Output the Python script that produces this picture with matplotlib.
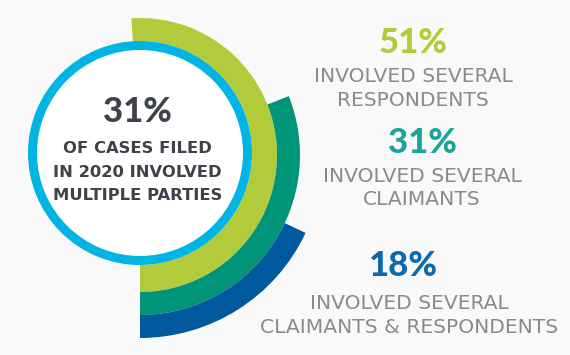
import matplotlib
matplotlib.use("Agg")
import matplotlib.pyplot as plt
from matplotlib.patches import Wedge, Circle

# ---- data ----
categories = ["INVOLVED SEVERAL\nRESPONDENTS",
              "INVOLVED SEVERAL\nCLAIMANTS",
              "INVOLVED SEVERAL\nCLAIMANTS & RESPONDENTS"]
values = [51, 31, 18]
center_value = 31
center_label = ["OF CASES FILED", "IN 2020 INVOLVED", "MULTIPLE PARTIES"]

arc_colors = ["#B2CB3B", "#009479", "#00599D"]
text_colors = ["#B2CB3B", "#17A699", "#0B69B2"]
ring_color = "#00B4E3"
dark = "#3E4249"
gray = "#8A8A8A"
bg = "#F9F9F9"

W, H = 570, 355
fig = plt.figure(figsize=(W / 100, H / 100), dpi=100)
fig.patch.set_facecolor(bg)
ax = fig.add_axes([0, 0, 1, 1])
ax.set_xlim(0, W)
ax.set_ylim(0, H)
ax.axis("off")

def Y(py):
    return H - py

fam = "DejaVu Sans"
pfam = ["Lato", "DejaVu Sans"]

# ---- arcs: span = value % of a full turn, starting at the bottom ----
cx, cy = 140, Y(155)
outer = [137, 160, 183]
inner = [108, 137, 160]
for v, ro, ri, c in zip(values, outer, inner, arc_colors):
    ax.add_patch(Wedge((cx, cy), ro, -90, -90 + v * 3.6, width=ro - ri,
                       facecolor=c, edgecolor="none", zorder=1))

# ---- central circle ----
ccx, ccy = 140, Y(153)
ax.add_patch(Circle((ccx, ccy), 112, facecolor="white", edgecolor="none", zorder=2))
ax.add_patch(Wedge((ccx, ccy), 112, 0, 360, width=9, facecolor=ring_color,
                   edgecolor="none", zorder=3))

ax.text(137, Y(122), f"{center_value}%", ha="center", va="baseline",
        fontsize=25, fontweight="black", color=dark, family=pfam, zorder=4)
for txt, by in zip(center_label, [153, 177, 200]):
    ax.text(137.5, Y(by), txt, ha="center", va="baseline", fontsize=11.8,
            fontweight="bold", color=dark, family=fam, zorder=4)

# ---- right-hand labels ----
pct_pos = [(413, 53), (422, 153), (403, 276)]
lab_pos = [(413, [82, 106]), (422, [182, 205]), (409, [309, 333])]
for cat, v, tc, (px, pby), (lx, lbys) in zip(categories, values, text_colors,
                                             pct_pos, lab_pos):
    ax.text(px, Y(pby), f"{v}%", ha="center", va="baseline", fontsize=25,
            fontweight="black", color=tc, family=pfam)
    for line, by in zip(cat.split("\n"), lbys):
        ax.text(lx, Y(by), line, ha="center", va="baseline", fontsize=14.6,
                color=gray, family=fam)

fig.savefig("out.png", dpi=100, facecolor=bg)
